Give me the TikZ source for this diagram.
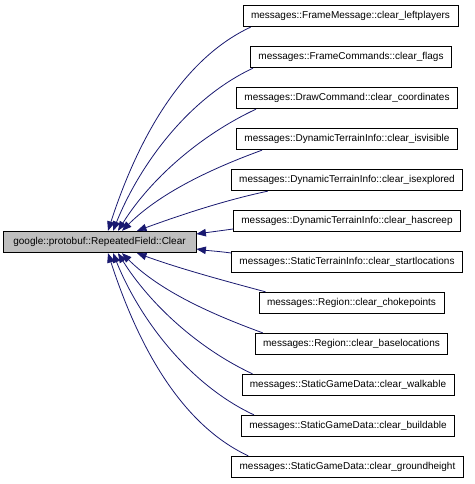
\documentclass[tikz,border=0pt]{standalone}
\usepackage{fontspec}
\setmainfont{Liberation Sans}
\usetikzlibrary{arrows.meta}
\definecolor{edgeblue}{HTML}{191970}
\definecolor{boxgray}{HTML}{BFBFBF}
\tikzset{
  fn/.style={draw=black, line width=0.8pt, fill=white, font=\fontsize{10}{12}\selectfont,
    inner xsep=8pt, inner ysep=0pt, minimum height=21.5pt, anchor=center},
  cur/.style={fn, fill=boxgray},
  call/.style={draw=edgeblue, line width=0.8pt, looseness=0.85, -{Triangle[length=9.5pt,width=7.5pt]}},
}
\begin{document}
\begin{tikzpicture}[x=1pt,y=1pt]
\useasboundingbox (0,0) rectangle (474,-484);
\node[cur, minimum width=193pt, inner xsep=0pt] (c) at (99.5,-242) {google::protobuf::RepeatedField::Clear};
\node[fn] (r1) at (350.5,-16) {messages::FrameMessage::clear\_leftplayers};
\node[fn] (r2) at (351,-57) {messages::FrameCommands::clear\_flags};
\node[fn] (r3) at (347,-98) {messages::DrawCommand::clear\_coordinates};
\node[fn] (r4) at (347,-139) {messages::DynamicTerrainInfo::clear\_isvisible};
\node[fn] (r5) at (347,-180) {messages::DynamicTerrainInfo::clear\_isexplored};
\node[fn] (r6) at (347,-221) {messages::DynamicTerrainInfo::clear\_hascreep};
\node[fn] (r7) at (347,-262) {messages::StaticTerrainInfo::clear\_startlocations};
\node[fn] (r8) at (351.5,-303) {messages::Region::clear\_chokepoints};
\node[fn] (r9) at (351.5,-344) {messages::Region::clear\_baselocations};
\node[fn] (r10) at (348,-385) {messages::StaticGameData::clear\_walkable};
\node[fn] (r11) at (348,-426) {messages::StaticGameData::clear\_buildable};
\node[fn] (r12) at (347.5,-467) {messages::StaticGameData::clear\_groundheight};
% top group
\draw[call] ([xshift=8pt]r1.south west) to[out=205,in=72] ([xshift=8.5pt]c.north);
\draw[call] ([xshift=3pt]r2.south west) to[out=205,in=68] ([xshift=13.5pt]c.north);
\draw[call] ([xshift=20pt]r3.south west) to[out=205,in=58] ([xshift=18.5pt]c.north);
\draw[call] ([xshift=26pt]r4.south west) to[out=200,in=45] ([xshift=22.5pt]c.north);
\draw[call] ([xshift=37pt]r5.south west) to[out=192,in=20] ([xshift=37.5pt]c.north);
% middle
\draw[call] ([yshift=-8pt]r6.west) to[out=188,in=8] ([yshift=8pt]c.east);
\draw[call] ([yshift=9pt]r7.west) to[out=172,in=-8] ([yshift=-7pt]c.east);
% bottom group
\draw[call] ([xshift=7pt]r8.north west) to[out=165,in=-20] ([xshift=37.5pt]c.south);
\draw[call] ([xshift=8pt]r9.north west) to[out=160,in=-45] ([xshift=22.5pt]c.south);
\draw[call] ([xshift=11pt]r10.north west) to[out=155,in=-58] ([xshift=18.5pt]c.south);
\draw[call] ([xshift=13pt]r11.north west) to[out=155,in=-68] ([xshift=13.5pt]c.south);
\draw[call] ([xshift=17pt]r12.north west) to[out=155,in=-72] ([xshift=8.5pt]c.south);
\end{tikzpicture}
\end{document}
